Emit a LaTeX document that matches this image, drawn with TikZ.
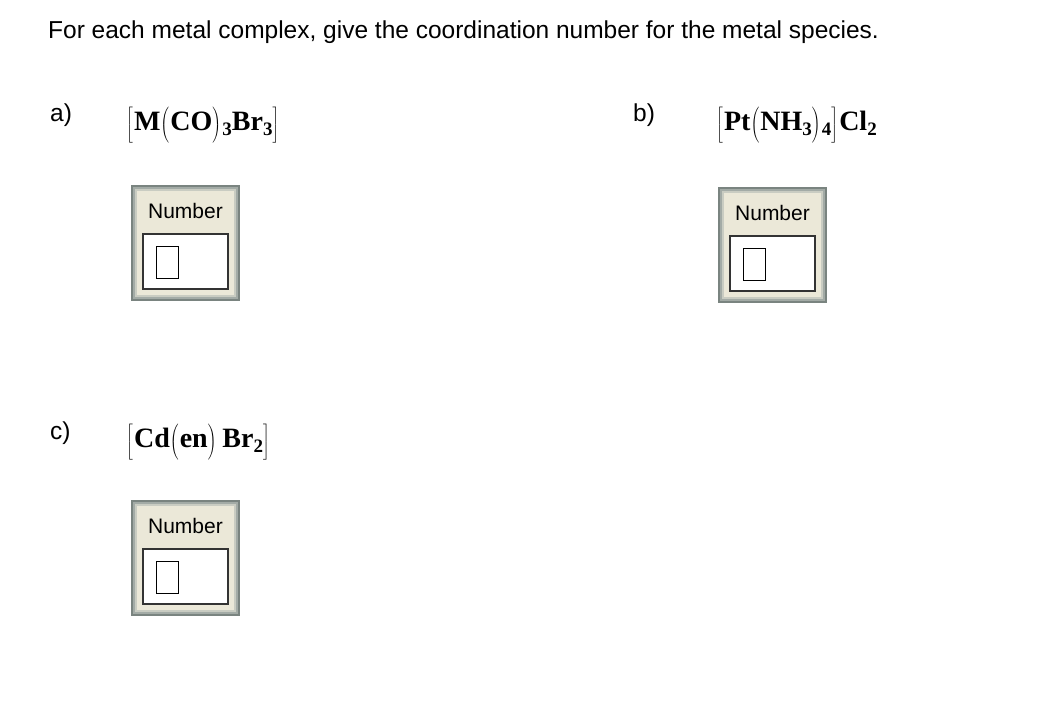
\documentclass[tikz,border=0pt]{standalone}
\usepackage{fontspec}
\setmainfont{Liberation Sans}
\newfontfamily\chemfont{Liberation Serif}
\definecolor{frA}{HTML}{7A8480}
\definecolor{frB}{HTML}{A3ABA6}
\definecolor{frC}{HTML}{C9CCC2}
\definecolor{beige}{HTML}{EBE8D8}
\begin{document}
\begin{tikzpicture}[x=1pt,y=-1pt,
  lbl/.style={anchor=west,font=\fontsize{24.5}{26}\selectfont,inner sep=0},
  chem/.style={anchor=west,font=\chemfont\bfseries\fontsize{28}{30}\selectfont,inner sep=0},
  numtxt/.style={font=\fontsize{21}{23}\selectfont,inner sep=0}]
\useasboundingbox (0,0) rectangle (1056,718);
\fill[white] (0,0) rectangle (1056,718);
\node[lbl] (title) at (48,32) {For each metal complex, give the coordination number for the metal species.};
\node[lbl] (la) at (50,115) {a)};
\node[lbl] (lb) at (633,115) {b)};
\node[lbl] (lc) at (50,433) {c)};
\newcommand{\sbr}[1]{{\fontsize{20}{20}\selectfont$\left#1\vphantom{\rule{0pt}{24pt}\rule[-10pt]{0pt}{10pt}}\right.$}}
\newcommand{\sub}[1]{\raisebox{-5pt}{\fontsize{19}{19}\selectfont #1}}
\node[chem] (fa) at (126,125) {\sbr[M\sbr(CO\sbr)\sub{3}Br\sub{3}\sbr]};
\node[chem] (fb) at (716,125) {\sbr[Pt\sbr(NH\sub{3}\sbr)\sub{4}\sbr]Cl\sub{2}};
\node[chem] (fc) at (126,442) {\sbr[Cd\sbr(en\sbr)\,Br\sub{2}\sbr]};
\newcommand{\numbox}[3]{%
  \fill[frA] (#1,#2) rectangle ++(109,116);
  \fill[frB] (#1+2,#2+2) rectangle ++(105,112);
  \fill[frC] (#1+4,#2+4) rectangle ++(101,108);
  \fill[beige] (#1+6,#2+6) rectangle ++(97,104);
  \node[numtxt] (#3t) at (#1+54.5,#2+26) {Number};
  \draw[fill=white,line width=1.2pt,draw=black!80] (#1+12,#2+49) rectangle ++(85,55);
  \draw[fill=white,line width=0.6pt] (#1+25,#2+61) rectangle ++(22,32);
}
\numbox{131}{185}{na}
\numbox{718}{187}{nb}
\numbox{131}{500}{nc}
\end{tikzpicture}
\end{document}
